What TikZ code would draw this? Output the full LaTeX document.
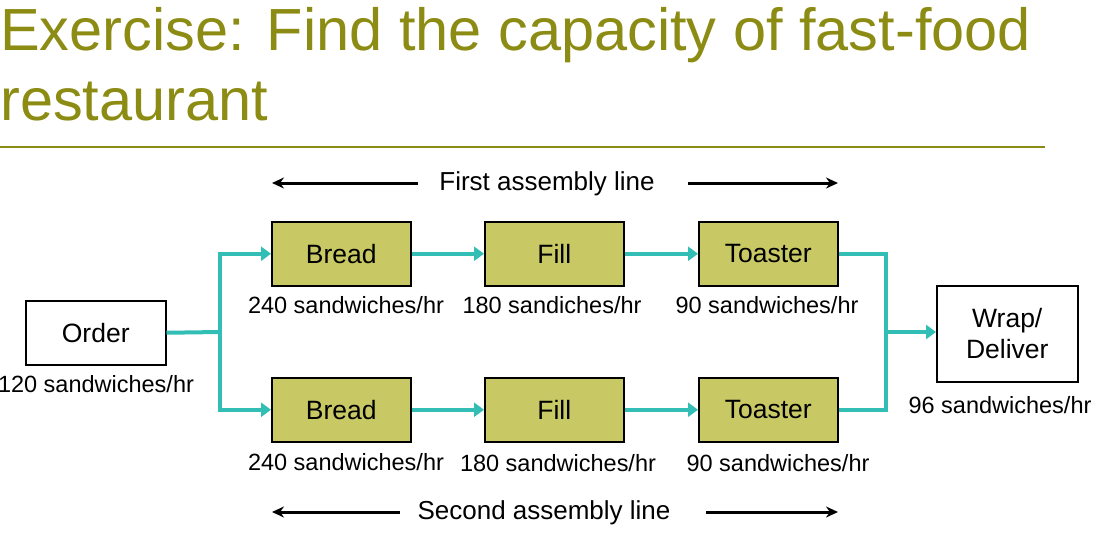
\documentclass[tikz,border=0pt]{standalone}
\usepackage{fontspec}
\setmainfont{Liberation Sans}
\usetikzlibrary{arrows.meta}
\definecolor{olive}{RGB}{140,140,20}
\definecolor{boxfill}{RGB}{200,200,100}
\definecolor{teal2}{RGB}{50,190,180}
\begin{document}
\begin{tikzpicture}[x=1pt,y=-1pt,
  stage/.style={draw=black,line width=1.5pt,fill=boxfill,minimum width=139pt,minimum height=64pt,font=\fontsize{26.5}{30}\selectfont,anchor=north west},
  plain/.style={draw=black,line width=1.5pt,fill=white,minimum width=140pt,minimum height=64pt,font=\fontsize{26.5}{31}\selectfont,anchor=north west},
  lbl/.style={font=\fontsize{23.5}{26}\selectfont},
  flow/.style={draw=teal2,line width=4pt,-{Triangle[length=10pt,width=14pt]}},
  flowl/.style={draw=teal2,line width=4pt},
  blk/.style={draw=black,line width=3pt,-{Stealth[length=12pt,width=11pt]}}]
\useasboundingbox (0,0) rectangle (1106,557);
\node[anchor=base west,text=olive,font=\fontsize{59.5}{66}\selectfont,inner sep=0] (t1) at (0,50) {Exercise: Find the capacity of fast-food};
\node[anchor=base west,text=olive,font=\fontsize{59.5}{66}\selectfont,inner sep=0] (t2) at (0,120) {restaurant};
\draw[olive,line width=1.5pt] (0,147) -- (1045,147);
\node[plain] (order) at (25,300) {Order};
\node[plain,minimum width=141pt,minimum height=96pt,align=center] (wrap) at (936,285) {Wrap/\\Deliver};
\node[stage] (b1) at (271,221) {Bread};
\node[stage] (f1) at (484,221) {Fill};
\node[stage] (s1) at (698,221) {Toaster};
\node[stage] (b2) at (271,377) {Bread};
\node[stage] (f2) at (484,377) {Fill};
\node[stage] (s2) at (698,377) {Toaster};
\coordinate (sp) at (220,332);
\coordinate (jn) at (886,332);
\draw[flowl] (order.east) -- (sp);
\draw[flow] (sp) |- (b1.west);
\draw[flow] (sp) |- (b2.west);
\draw[flow] (b1) -- (f1);
\draw[flow] (f1) -- (s1);
\draw[flow] (b2) -- (f2);
\draw[flow] (f2) -- (s2);
\draw[flowl] (s1.east) -| (jn);
\draw[flowl] (s2.east) -| (jn);
\draw[flow] (jn) -- (wrap.west |- jn);
\node[lbl] (l1) at (346,305) {240 sandwiches/hr};
\node[lbl] (l2) at (552,305) {180 sandiches/hr};
\node[lbl] (l3) at (767,305) {90 sandwiches/hr};
\node[lbl] (l4) at (346,462) {240 sandwiches/hr};
\node[lbl] (l5) at (558,463) {180 sandwiches/hr};
\node[lbl] (l6) at (778,463) {90 sandwiches/hr};
\node[lbl] (l7) at (96,384) {120 sandwiches/hr};
\node[lbl] (l8) at (1000,405) {96 sandwiches/hr};
\node[font=\fontsize{26}{30}\selectfont] (fa) at (547,184) {First assembly line};
\node[font=\fontsize{26}{30}\selectfont] (sa) at (544,513) {Second assembly line};
\coordinate (fa1) at (272,183); \coordinate (fa2) at (838,183);
\coordinate (sa1) at (272,512); \coordinate (sa2) at (838,512);
\coordinate (q1) at (418,183); \coordinate (q2) at (688,183);
\coordinate (q3) at (400,512); \coordinate (q4) at (706,512);
\draw[blk] (q1) -- (fa1);
\draw[blk] (q2) -- (fa2);
\draw[blk] (q3) -- (sa1);
\draw[blk] (q4) -- (sa2);
\end{tikzpicture}
\end{document}
